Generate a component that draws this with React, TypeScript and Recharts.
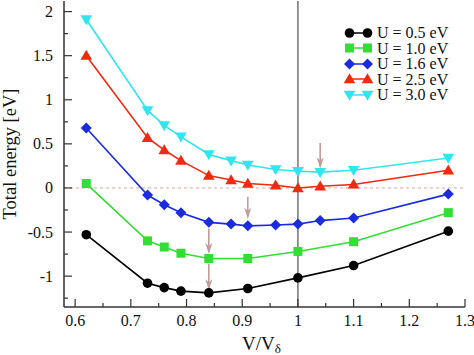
import React from 'react';
import { LineChart, Line, XAxis, YAxis, ReferenceLine, Legend } from 'recharts';

// ---- data ----
const xShort = [0.62, 0.73, 0.76, 0.79, 0.84, 0.91, 1.0, 1.1, 1.27];
const xLong = [0.62, 0.73, 0.76, 0.79, 0.84, 0.88, 0.91, 0.96, 1.0, 1.04, 1.1, 1.27];
const u05 = [-0.53, -1.08, -1.13, -1.17, -1.19, -1.14, -1.02, -0.88, -0.49];
const u10 = [0.05, -0.6, -0.67, -0.74, -0.8, -0.8, -0.72, -0.61, -0.28];
const u16 = [0.68, -0.08, -0.19, -0.28, -0.39, -0.41, -0.43, -0.42, -0.41, -0.37, -0.34, -0.07];
const u25 = [1.5, 0.57, 0.43, 0.31, 0.14, 0.09, 0.05, 0.03, 0.0, 0.02, 0.04, 0.2];
const u30 = [1.91, 0.88, 0.71, 0.58, 0.38, 0.31, 0.26, 0.21, 0.19, 0.18, 0.2, 0.34];
const seriesLabels = ['U = 0.5 eV', 'U = 1.0 eV', 'U = 1.6 eV', 'U = 2.5 eV', 'U = 3.0 eV'];

const xMajor = [0.6, 0.7, 0.8, 0.9, 1, 1.1, 1.2, 1.3];
const xMinor = [0.65, 0.75, 0.85, 0.95, 1.05, 1.15, 1.25];
const yMajor = [-1, -0.5, 0, 0.5, 1, 1.5, 2];
const yMinor = [-1.25, -0.75, -0.25, 0.25, 0.75, 1.25, 1.75];

// arrows marking minima
const arrowX = [0.84, 0.84, 0.91, 1.04];
const arrowFrom = [-0.46, -0.86, -0.1, 0.51];
const arrowTo = [-0.75, -1.16, -0.35, 0.22];

// ---- styling ----
const FONT = "'Liberation Serif', 'Times New Roman', Times, serif";
const FRAME = '#333333';
const ARROW = '#c29b9b';
const COLORS = ['#000000', '#33dd33', '#1a2be0', '#f02a10', '#30e6ee'];
const SHAPES = ['circle', 'square', 'diamond', 'up', 'down'];

const toData = (xs: number[], ys: number[]) => xs.map((x, i) => ({ x, y: ys[i] }));
const series = [
  { data: toData(xShort, u05) },
  { data: toData(xShort, u10) },
  { data: toData(xLong, u16) },
  { data: toData(xLong, u25) },
  { data: toData(xLong, u30) },
];

const xTicks = [...xMajor, ...xMinor].sort((a, b) => a - b);
const yTicks = [...yMajor, ...yMinor].sort((a, b) => a - b);

function Marker({ cx, cy, shape, color }: { cx: number; cy: number; shape: string; color: string }) {
  if (cx == null || cy == null) return null;
  switch (shape) {
    case 'circle':
      return <circle cx={cx} cy={cy} r={4.8} fill={color} />;
    case 'square':
      return <rect x={cx - 4.5} y={cy - 4.5} width={9} height={9} fill={color} />;
    case 'diamond':
      return <polygon points={`${cx},${cy - 5.5} ${cx + 5.5},${cy} ${cx},${cy + 5.5} ${cx - 5.5},${cy}`} fill={color} />;
    case 'up':
      return <polygon points={`${cx},${cy - 5.8} ${cx + 5.8},${cy + 4.2} ${cx - 5.8},${cy + 4.2}`} fill={color} />;
    default:
      return <polygon points={`${cx},${cy + 5.8} ${cx + 5.8},${cy - 4.2} ${cx - 5.8},${cy - 4.2}`} fill={color} />;
  }
}

const textStyle = { fontFamily: FONT };

const BottomTick = (props: any) => {
  const { x, y, payload } = props;
  const major = xMajor.includes(payload.value);
  return (
    <g>
      <line x1={x} x2={x} y1={y} y2={y - (major ? 8 : 4)} stroke={FRAME} strokeWidth={1.2} />
      {major && (
        <text x={x} y={y + 19} textAnchor="middle" style={textStyle} fontSize={16} fill="#111">
          {String(payload.value)}
        </text>
      )}
    </g>
  );
};
const TopTick = (props: any) => {
  const { x, y, payload } = props;
  const major = xMajor.includes(payload.value);
  return <line x1={x} x2={x} y1={y} y2={y + (major ? 8 : 4)} stroke={FRAME} strokeWidth={1.2} />;
};
const LeftTick = (props: any) => {
  const { x, y, payload } = props;
  const major = yMajor.includes(payload.value);
  return (
    <g>
      <line x1={x} x2={x + (major ? 8 : 4)} y1={y} y2={y} stroke={FRAME} strokeWidth={1.2} />
      {major && (
        <text x={x - 11} y={y + 5.5} textAnchor="end" style={textStyle} fontSize={16} fill="#111">
          {String(payload.value)}
        </text>
      )}
    </g>
  );
};
const RightTick = (props: any) => {
  const { x, y, payload } = props;
  const major = yMajor.includes(payload.value);
  return <line x1={x} x2={x - (major ? 8 : 4)} y1={y} y2={y} stroke={FRAME} strokeWidth={1.2} />;
};

const ArrowShape = (props: any) => {
  const { x1, y1, x2, y2 } = props;
  if (x1 == null) return null;
  return (
    <g>
      <line x1={x1} y1={y1} x2={x2} y2={y2 - 2} stroke={ARROW} strokeWidth={1.6} />
      <polygon points={`${x2},${y2} ${x2 - 3.5},${y2 - 11} ${x2},${y2 - 8} ${x2 + 3.5},${y2 - 11}`} fill={ARROW} />
    </g>
  );
};

const LegendContent = () => (
  <div style={{ fontFamily: FONT, fontSize: 16, color: '#111' }}>
    {seriesLabels.map((label, i) => (
      <div key={label} style={{ display: 'flex', alignItems: 'center', height: 15.5 }}>
        <svg width={30} height={14} style={{ display: 'block' }}>
          <line x1={6.5} x2={24.5} y1={7} y2={7} stroke={COLORS[i]} strokeWidth={1.5} />
          <Marker cx={6.5} cy={7} shape={SHAPES[i]} color={COLORS[i]} />
          <Marker cx={24.5} cy={7} shape={SHAPES[i]} color={COLORS[i]} />
        </svg>
        <span style={{ marginLeft: 4, lineHeight: '15px', whiteSpace: 'nowrap' }}>{label}</span>
      </div>
    ))}
  </div>
);

const XLabel = (props: any) => {
  const vb = props.viewBox || {};
  const cx = (vb.x ?? 64) + (vb.width ?? 401) / 2;
  const top = vb.y ?? 307;
  return (
    <text x={cx - 3} y={top + 43} textAnchor="middle" style={textStyle} fontSize={19} fill="#111">
      V/V
      <tspan fontSize={13} dy={3}>δ</tspan>
    </text>
  );
};

const YLabel = (props: any) => {
  const vb = props.viewBox || {};
  const cy = (vb.y ?? 1) + (vb.height ?? 306) / 2;
  return (
    <text
      x={16}
      y={cy}
      transform={`rotate(-90, 16, ${cy})`}
      textAnchor="middle"
      style={textStyle}
      fontSize={18.5}
      fill="#111"
    >
      Total energy [eV]
    </text>
  );
};

export default function App() {
  return (
    <div style={{ position: 'absolute', left: 0, top: 0, width: 474, height: 355, background: '#fff' }}>
      <LineChart width={474} height={355} margin={{ top: 1, right: 9, bottom: 0, left: 0 }}>
        <XAxis
          xAxisId={0}
          type="number"
          dataKey="x"
          domain={[0.58, 1.3]}
          allowDataOverflow
          ticks={xTicks}
          interval={0}
          tickSize={0}
          tickMargin={0}
          tickLine={false}
          tick={BottomTick}
          height={48}
          axisLine={{ stroke: FRAME, strokeWidth: 1.5 }}
          label={<XLabel />}
        />
        <XAxis
          xAxisId="top"
          orientation="top"
          type="number"
          dataKey="x"
          domain={[0.58, 1.3]}
          allowDataOverflow
          ticks={xTicks}
          interval={0}
          tickSize={0}
          tickMargin={0}
          tickLine={false}
          tick={TopTick}
          height={0}
          axisLine={{ stroke: FRAME, strokeWidth: 1.5 }}
        />
        <YAxis
          yAxisId={0}
          type="number"
          domain={[-1.35, 2.12]}
          allowDataOverflow
          ticks={yTicks}
          interval={0}
          tickSize={0}
          tickMargin={0}
          tickLine={false}
          tick={LeftTick}
          width={64}
          axisLine={{ stroke: FRAME, strokeWidth: 1.5 }}
          label={<YLabel />}
        />
        <YAxis
          yAxisId="right"
          orientation="right"
          type="number"
          domain={[-1.35, 2.12]}
          allowDataOverflow
          ticks={yTicks}
          interval={0}
          tickSize={0}
          tickMargin={0}
          tickLine={false}
          tick={RightTick}
          width={0}
          axisLine={{ stroke: FRAME, strokeWidth: 1.5 }}
        />
        <ReferenceLine y={0} stroke="#e3a4a4" strokeDasharray="3 3" strokeWidth={1} />
        <ReferenceLine x={1} stroke="#7a7a7a" strokeWidth={1.6} />
        {series.map((s, i) => (
          <Line
            key={seriesLabels[i]}
            data={s.data}
            dataKey="y"
            name={seriesLabels[i]}
            type="linear"
            stroke={COLORS[i]}
            strokeWidth={1.6}
            isAnimationActive={false}
            dot={(p: any) => <Marker key={`d${i}-${p.index}`} cx={p.cx} cy={p.cy} shape={SHAPES[i]} color={COLORS[i]} />}
            activeDot={false}
          />
        ))}
        {arrowX.map((ax, i) => (
          <ReferenceLine
            key={`arrow${i}`}
            segment={[
              { x: ax, y: arrowFrom[i] },
              { x: ax, y: arrowTo[i] },
            ]}
            shape={ArrowShape}
          />
        ))}
        <Legend
          layout="vertical"
          align="center"
          verticalAlign="middle"
          content={LegendContent}
          wrapperStyle={{ left: 343, top: 25, width: 130 }}
        />
      </LineChart>
    </div>
  );
}
